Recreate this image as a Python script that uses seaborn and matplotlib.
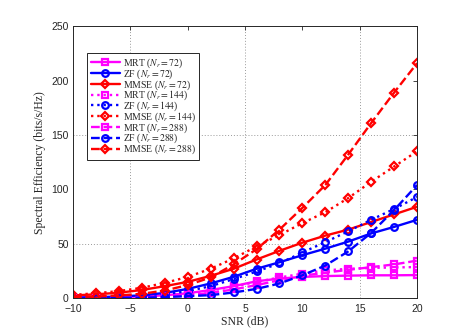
import numpy as np
import pandas as pd
import matplotlib
matplotlib.use("Agg")
import matplotlib.pyplot as plt
import seaborn as sns

snr = [-10, -8, -6, -4, -2, 0, 2, 4, 6, 8, 10, 12, 14, 16, 18, 20]

mrt_72 = [0.4, 0.6, 1.0, 1.6, 2.6, 4.5, 7.5, 11.0, 15.5, 18.0, 19.5, 20.3, 20.7, 21.0, 21.0, 21.2]
zf_72 = [0.5, 0.9, 1.5, 2.6, 4.8, 8.5, 13.5, 19.6, 27.0, 33.0, 39.5, 45.5, 52.0, 59.5, 65.5, 72.0]
mmse_72 = [2.5, 3.5, 5.0, 7.5, 11.0, 15.0, 20.5, 27.0, 35.5, 43.5, 51.0, 57.5, 63.0, 70.0, 77.0, 84.0]
mrt_144 = [0.3, 0.5, 0.8, 1.3, 2.2, 4.0, 7.0, 10.5, 15.0, 19.0, 22.5, 25.5, 27.0, 27.8, 28.2, 28.6]
zf_144 = [0.4, 0.6, 1.0, 1.8, 3.5, 6.5, 11.0, 17.5, 24.5, 32.0, 42.0, 51.5, 61.5, 72.0, 82.0, 93.0]
mmse_144 = [3.0, 4.5, 6.5, 9.5, 14.0, 19.5, 27.0, 36.5, 47.5, 58.0, 69.0, 79.0, 92.0, 107.0, 121.0, 135.0]
mrt_288 = [0.2, 0.3, 0.5, 0.8, 1.4, 2.6, 4.8, 8.0, 12.0, 16.5, 20.5, 23.5, 26.0, 28.5, 31.0, 34.5]
zf_288 = [0.1, 0.15, 0.25, 0.4, 1.0, 1.8, 2.8, 5.2, 8.5, 13.5, 21.0, 30.0, 43.0, 60.0, 81.0, 104.0]
mmse_288 = [1.0, 1.5, 2.5, 4.0, 7.0, 12.0, 19.0, 31.0, 45.0, 63.0, 83.0, 104.0, 132.0, 161.0, 189.0, 216.0]

labels = [r"MRT ($N_r = 72$)", r"ZF ($N_r = 72$)", r"MMSE ($N_r = 72$)",
          r"MRT ($N_r = 144$)", r"ZF ($N_r = 144$)", r"MMSE ($N_r = 144$)",
          r"MRT ($N_r = 288$)", r"ZF ($N_r = 288$)", r"MMSE ($N_r = 288$)"]
series = [mrt_72, zf_72, mmse_72, mrt_144, zf_144, mmse_144, mrt_288, zf_288, mmse_288]

x_ticks = [-10, -5, 0, 5, 10, 15, 20]
y_ticks = [0, 50, 100, 150, 200, 250]
grid_x = [-5, 5, 15]
grid_y = [50, 150]

colors = ["#FF00FF", "#0000FF", "#FF0000"] * 3
markers = ["s", "o", "D"] * 3
styles = ["-"] * 3 + [":"] * 3 + ["--"] * 3

sns.set_style("white")
plt.rcParams["mathtext.fontset"] = "stix"

fig = plt.figure(figsize=(4.74, 3.35), dpi=100)
ax = fig.add_axes([0.154, 0.110, 0.726, 0.812])

for gx in grid_x:
    ax.axvline(gx, color="#9a9a9a", linestyle=(0, (1, 2)), linewidth=0.7, zorder=0)
for gy in grid_y:
    ax.axhline(gy, color="#9a9a9a", linestyle=(0, (1, 2)), linewidth=0.7, zorder=0)

for lab, vals, c, m, ls in zip(labels, series, colors, markers, styles):
    df = pd.DataFrame({"SNR": snr, "SE": vals})
    ms = 4.2 if m == "D" else 4.8
    sns.lineplot(data=df, x="SNR", y="SE", ax=ax, color=c, marker=m,
                 linestyle=ls, linewidth=1.7, markersize=ms,
                 markerfacecolor="none", markeredgecolor=c,
                 markeredgewidth=1.6, label=lab)

ax.set_xlim(-10, 20)
ax.set_ylim(0, 250)
ax.set_xticks(x_ticks)
ax.set_yticks(y_ticks)
ax.tick_params(direction="in", top=True, right=True, length=3, width=0.6,
               labelsize=7.5, colors="#262626")
ax.tick_params(axis="x", pad=4)
ax.tick_params(axis="y", pad=3)
for lbl in ax.get_xticklabels() + ax.get_yticklabels():
    lbl.set_fontfamily("Liberation Sans")
for s in ax.spines.values():
    s.set_color("#262626")
    s.set_linewidth(0.7)

ax.set_xlabel("SNR (dB)", fontfamily="Liberation Serif", fontsize=8.5, labelpad=1)
ax.set_ylabel("Spectral Efficiency (bits/s/Hz)", fontfamily="Liberation Serif",
              fontsize=8.5, labelpad=4)

leg = ax.legend(loc="upper left", bbox_to_anchor=(0.041, 0.901),
                prop={"family": "Liberation Serif", "size": 7},
                handlelength=3.0, handletextpad=0.3, labelspacing=-0.28,
                borderpad=0.35, frameon=True, fancybox=False, framealpha=1,
                borderaxespad=0)
leg.get_frame().set_edgecolor("#262626")
leg.get_frame().set_linewidth(0.7)

fig.savefig("out.png", dpi=100)
